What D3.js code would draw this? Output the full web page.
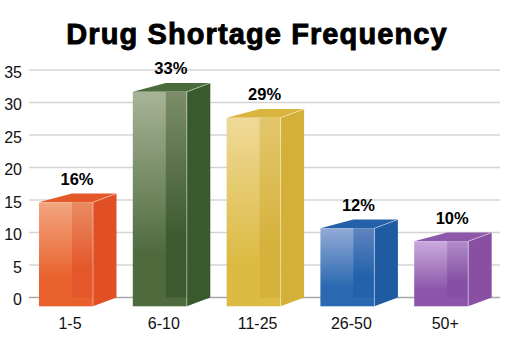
<!DOCTYPE html>
<html><head><meta charset="utf-8">
<script src="https://cdn.jsdelivr.net/npm/d3@7"></script>
<style>html,body{margin:0;padding:0;background:#fff;}svg{display:block;}</style>
</head><body>
<svg id="c" width="514" height="352"></svg>
<script>
const title = "Drug Shortage Frequency";
const categories = ["1-5", "6-10", "11-25", "26-50", "50+"];
const values = [16, 33, 29, 12, 10];
const valueLabels = ["16%", "33%", "29%", "12%", "10%"];
const yTicks = [0, 5, 10, 15, 20, 25, 30, 35];

const palette = [
  {ft:"#f3a67f", fb:"#e8602b", ot:"#e98b62", ob:"#e4572a", side:"#e14f24", top:"#e4582a"},
  {ft:"#a8b497", fb:"#4f6b3e", ot:"#7b8d69", ob:"#3d5b31", side:"#395a2d", top:"#4b6b3d"},
  {ft:"#efd998", fb:"#dcbb45", ot:"#e3c66c", ob:"#d6b23c", side:"#d5b038", top:"#d9b540"},
  {ft:"#93aad6", fb:"#2a69b1", ot:"#5f84c0", ob:"#2262aa", side:"#1f5ba2", top:"#2561a9"},
  {ft:"#caaadd", fb:"#8b56a9", ot:"#b08cc9", ob:"#8651a4", side:"#884fa3", top:"#8d58aa"}
];

const svg = d3.select("#c");
const y = d3.scaleLinear().domain([0, 35]).range([297.5, 70]);
const x = d3.scaleBand().domain(categories).range([29, 478.2]).paddingInner(0.4243).paddingOuter(0.1066);
const bw = x.bandwidth();
const dy = 8.8, dxL = 33, dxR = 23.5;

// title
svg.append("text").attr("x", 257).attr("y", 44).attr("text-anchor", "middle")
  .attr("font-family", "Liberation Sans, Arial, sans-serif").attr("font-weight", "bold")
  .attr("font-size", 29).attr("letter-spacing", 1.1)
  .attr("stroke", "#000").attr("stroke-width", 0.9).attr("fill", "#000").text(title);

// gridlines
svg.append("g").selectAll("line").data(yTicks).join("line")
  .attr("x1", 29).attr("x2", 500)
  .attr("y1", d => y(d)).attr("y2", d => y(d))
  .attr("stroke", d => d === 0 ? "#a8a8a8" : "#d4d4d4").attr("stroke-width", 1.4);

// y labels
svg.append("g").selectAll("text").data(yTicks).join("text")
  .attr("x", 22).attr("y", d => y(d) + 7.5).attr("text-anchor", "end")
  .attr("font-family", "Liberation Sans, Arial, sans-serif").attr("font-size", 16)
  .attr("fill", "#111").text(d => d);

const defs = svg.append("defs");
palette.forEach((p, i) => {
  const g1 = defs.append("linearGradient").attr("id", "gf" + i).attr("x1", 0).attr("y1", 0).attr("x2", 0).attr("y2", 1);
  g1.append("stop").attr("offset", 0).attr("stop-color", p.ft);
  g1.append("stop").attr("offset", 0.75).attr("stop-color", p.fb);
  g1.append("stop").attr("offset", 1).attr("stop-color", p.fb);
  const g2 = defs.append("linearGradient").attr("id", "go" + i).attr("x1", 0).attr("y1", 0).attr("x2", 0).attr("y2", 1);
  g2.append("stop").attr("offset", 0).attr("stop-color", p.ot);
  g2.append("stop").attr("offset", 0.7).attr("stop-color", p.ob);
  g2.append("stop").attr("offset", 1).attr("stop-color", p.ob);
});

const bars = svg.append("g").selectAll("g").data(values).join("g");
bars.each(function(v, i) {
  const g = d3.select(this);
  const c = categories[i], p = palette[i];
  const fl = x(c), fr = fl + bw;
  const bl = fl + dxL, br = fr + dxR;
  const bt = y(v), bb = y(0);
  const ft = bt + dy, fb = bb + dy;
  // side
  g.append("polygon").attr("points", [[fr, ft], [br, bt], [br, bb], [fr, fb]].join(" ")).attr("fill", p.side);
  // top
  g.append("polygon").attr("points", [[fl, ft], [bl, bt], [br, bt], [fr, ft]].join(" ")).attr("fill", p.top);
  // front
  g.append("rect").attr("x", fl).attr("y", ft).attr("width", bw).attr("height", fb - ft).attr("fill", `url(#gf${i})`);
  // overlap (back face seen through)
  g.append("rect").attr("x", bl).attr("y", ft).attr("width", fr - bl).attr("height", bb - ft).attr("fill", `url(#go${i})`);
  // highlight edges
  g.append("line").attr("x1", fr).attr("x2", fr).attr("y1", ft).attr("y2", fb)
    .attr("stroke", "#fff").attr("stroke-opacity", 0.45).attr("stroke-width", 1);
  g.append("line").attr("x1", fr).attr("x2", br).attr("y1", ft).attr("y2", bt)
    .attr("stroke", "#fff").attr("stroke-opacity", 0.45).attr("stroke-width", 1);
  // value label
  g.append("text").attr("x", fl + bw / 2 + 11).attr("y", bt - 9).attr("text-anchor", "middle")
    .attr("font-family", "Liberation Sans, Arial, sans-serif").attr("font-weight", "bold")
    .attr("font-size", 16.5).attr("fill", "#000").text(valueLabels[i]);
  // category label
  g.append("text").attr("x", fl + bw / 2 + 4).attr("y", 329).attr("text-anchor", "middle")
    .attr("font-family", "Liberation Sans, Arial, sans-serif")
    .attr("font-size", 16).attr("fill", "#111").text(c);
});
</script>
</body></html>
